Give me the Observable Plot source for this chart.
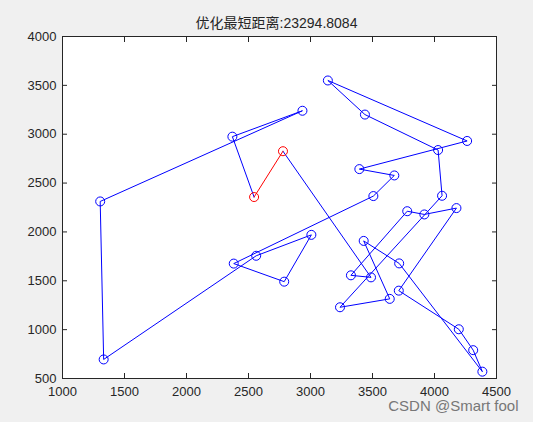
<!DOCTYPE html>
<html><head><meta charset="utf-8">
<script src="https://cdn.jsdelivr.net/npm/d3@7"></script>
<script src="https://cdn.jsdelivr.net/npm/@observablehq/plot@0.6"></script>
<style>
html,body{margin:0;padding:0;background:#f0f0f0;}
</style></head><body><div id="chart"></div>
<script>
const titleText = "优化最短距离:23294.8084";
const watermark = "CSDN @Smart fool";
// city coordinates in tour order (tour closes back to the first city)
const tourX = [2545, 2778, 3488, 3326, 3780, 3918, 4177, 3712, 4196, 4312, 4386, 3715, 3429, 3639, 3238, 4061, 4029, 3439, 3140, 4263, 3394, 3676, 3507, 2381, 2788, 3007, 2562, 1332, 1304, 2935, 2370];
const tourY = [2357, 2826, 1535, 1556, 2212, 2179, 2244, 1399, 1004, 790, 570, 1678, 1908, 1315, 1229, 2370, 2838, 3201, 3550, 2931, 2643, 2578, 2367, 1676, 1491, 1970, 1756, 695, 2312, 3240, 2975];
const xTicks = [1000, 1500, 2000, 2500, 3000, 3500, 4000, 4500];
const yTicks = [500, 1000, 1500, 2000, 2500, 3000, 3500, 4000];

const route = tourX.map((x, i) => ({x, y: tourY[i]}));
const path = [...route, route[0]];
const startSeg = path.slice(0, 2);   // first leg, drawn in red
const restPath = path.slice(1);      // remaining legs, drawn in blue
const restCities = route.slice(2);

const font = '"Liberation Sans", Arial, "Noto Sans CJK SC", sans-serif';
const fmt = d3.format("d");
const chart = Plot.plot({
  width: 533, height: 422,
  marginLeft: 62, marginRight: 37, marginTop: 36, marginBottom: 44,
  style: {background: "#f0f0f0", fontFamily: font, fontSize: "13px", color: "#262626"},
  x: {domain: [1000, 4500]},
  y: {domain: [500, 4000]},
  marks: [
    Plot.frame({fill: "white", stroke: null}),
    Plot.axisX(xTicks, {anchor: "bottom", tickSize: -5, tickPadding: 13, tickFormat: fmt, label: null, fontSize: 13}),
    Plot.axisX(xTicks, {anchor: "top", tickSize: -5, tickFormat: () => "", label: null}),
    Plot.axisY(yTicks, {anchor: "left", tickSize: -5, tickPadding: 11, tickFormat: fmt, label: null, fontSize: 13}),
    Plot.axisY(yTicks, {anchor: "right", tickSize: -5, tickFormat: () => "", label: null}),
    Plot.line(restPath, {x: "x", y: "y", stroke: "#0000ff", strokeWidth: 1}),
    Plot.line(startSeg, {x: "x", y: "y", stroke: "#ff0000", strokeWidth: 1}),
    Plot.dot(restCities, {x: "x", y: "y", r: 4.5, stroke: "#0000ff", fill: "none", strokeWidth: 1}),
    Plot.dot(startSeg, {x: "x", y: "y", r: 4.5, stroke: "#ff0000", fill: "none", strokeWidth: 1}),
    Plot.frame({stroke: "#262626"}),
    Plot.text([titleText], {text: d => d, frameAnchor: "top", dy: -13, dx: -3, fontSize: 14, lineAnchor: "middle", fill: "#262626"}),
    Plot.text([watermark], {text: d => d, frameAnchor: "bottom-right", textAnchor: "end", lineAnchor: "middle", dx: 22, dy: 28, fontSize: 15, fill: "#777"})
  ]
});
document.getElementById("chart").appendChild(chart);
</script></body></html>
